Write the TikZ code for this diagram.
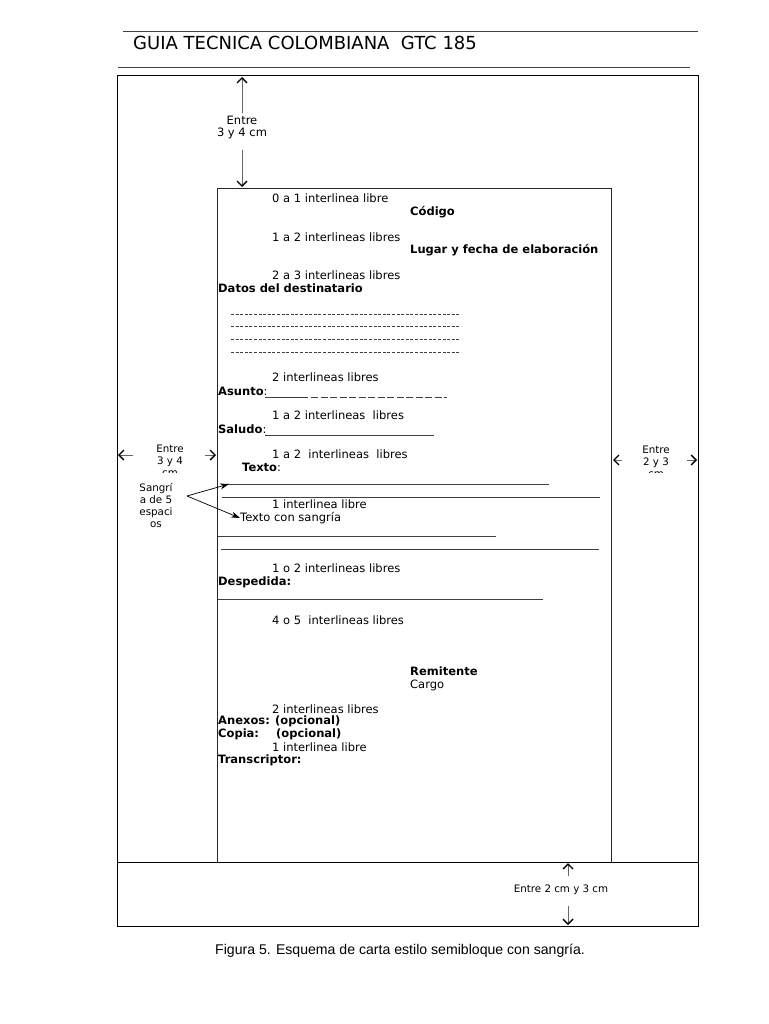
\documentclass[tikz,border=0pt]{standalone}
\usepackage{fontspec}
\setmainfont{DejaVu Sans}
\newfontfamily\capfont{Liberation Sans}
\usetikzlibrary{arrows.meta}

\begin{document}
\begin{tikzpicture}[
  x=1pt,y=-1pt,
  >={Straight Barb[length=5pt,width=10pt,line width=1.4pt,color=black]},
  txt/.style={anchor=west,inner sep=0pt,font=\fontsize{11.5}{13}\selectfont},
  bld/.style={txt,font=\fontsize{11.5}{13}\selectfont\bfseries},
  side/.style={align=center,inner sep=0pt,font=\fontsize{10.3}{12}\selectfont},
  rule/.style={black!75,line width=0.6pt},
  dots/.style={rule,dash pattern=on 3pt off 1.6pt},
  marrow/.style={->,black!60,line width=0.7pt},
]
  \useasboundingbox (0,0) rectangle (768,1024);
  \draw[rule] (123,31) -- (698,31);
  \draw[rule] (118,67) -- (690,67);
  \node[txt,font=\fontsize{18}{20}\selectfont] (title) at (133,43)
    {GUIA TECNICA COLOMBIANA\ \ GTC 185};
  \draw[line width=1pt] (117,76) rectangle (698,926);
  \draw[line width=1pt] (117,862) -- (698,862);
  \draw[black!85,line width=0.9pt] (217,862) -- (217,188) -- (611,188) -- (611,862);
  % margenes
  \coordinate (otop) at (242,77);
  \coordinate (t1) at (242,150);
  \coordinate (itop) at (242,187);
  \node[side,font=\fontsize{11.5}{12}\selectfont,inner sep=3pt] (tmar) at (242,128) {Entre\\3 y 4 cm};
  \draw[marrow] (tmar) -- (otop);
  \draw[marrow] (t1) -- (itop);
  \begin{scope}
    \clip (135,438) rectangle (205,472.5);
    \node[side] (lmar) at (170,461) {Entre\\3 y 4\\cm};
  \end{scope}
  \coordinate (l1) at (133,455);
  \coordinate (lout) at (118,455);
  \coordinate (l2) at (205,455);
  \coordinate (lin) at (216,455);
  \draw[marrow] (l1) -- (lout);
  \draw[marrow] (l2) -- (lin);
  \begin{scope}
    \clip (630,438) rectangle (685,472.5);
    \node[side] (rmar) at (656,462) {Entre\\2 y 3\\cm};
  \end{scope}
  \coordinate (r1) at (622,460);
  \coordinate (rin) at (613,460);
  \coordinate (r2) at (687,460);
  \coordinate (rout) at (697,460);
  \draw[marrow] (r1) -- (rin);
  \draw[marrow] (r2) -- (rout);
  \node[side] (bmar) at (561,890) {Entre 2 cm y 3 cm};
  \coordinate (b1) at (568,876);
  \coordinate (bin) at (568,863);
  \coordinate (b2) at (568,906);
  \coordinate (bout) at (568,925);
  \draw[marrow] (b1) -- (bin);
  \draw[marrow] (b2) -- (bout);
  % carta
  \node[txt] (lib0) at (272,198) {0 a 1 interlinea libre};
  \node[bld] (cod) at (410,212) {Código};
  \node[txt] (lib1) at (272,237) {1 a 2 interlineas libres};
  \node[bld] (lugar) at (410,250) {Lugar y fecha de elaboración};
  \node[txt] (lib2) at (272,275) {2 a 3 interlineas libres};
  \node[bld] (dest) at (218,288) {Datos del destinatario};
  \draw[dots] (231,314) -- (461,314);
  \draw[dots] (231,326) -- (461,326);
  \draw[dots] (231,339) -- (461,339);
  \draw[dots] (231,352) -- (461,352);
  \node[txt] (lib3) at (272,377) {2 interlineas libres};
  \node[bld] (asunto) at (218,391) {Asunto\textmd{:}};
  \draw[rule] (265,397) -- (308,397);
  \draw[rule,dash pattern=on 7pt off 2.5pt] (311,397) -- (447,397);
  \node[txt] (lib4) at (272,415) {1 a 2 interlineas\ \ libres};
  \node[bld] (saludo) at (218,429) {Saludo\textmd{:}};
  \draw[rule] (265,435) -- (434,435);
  \node[txt] (lib5) at (272,454) {1 a 2\ \ interlineas\ \ libres};
  \node[bld] (texto) at (242,467) {Texto\textmd{:}};
  \coordinate (sg1) at (229,484);
  \draw[rule] (222,484) -- (549,484);
  \draw[rule] (222,497) -- (600,497);
  \node[txt] (lib6) at (272,504) {1 interlinea libre};
  \node[txt] (tsang) at (240,518) {Texto con sangría};
  \draw[rule] (218,536) -- (496,536);
  \draw[rule] (221,549) -- (599,549);
  \node[txt] (lib7) at (272,568) {1 o 2 interlineas libres};
  \node[bld] (desp) at (218,582) {Despedida:};
  \draw[rule] (218,599) -- (543,599);
  \node[txt] (lib8) at (272,620) {4 o 5\ \ interlineas libres};
  \node[bld] (remit) at (410,671) {Remitente};
  \node[txt] (cargo) at (410,685) {Cargo};
  \node[txt] (lib9) at (272,709) {2 interlineas libres};
  \node[bld] (anexos) at (218,721) {Anexos: (opcional)};
  \node[bld] (copia) at (218,734) {\makebox[58pt][l]{Copia:}(opcional)};
  \node[txt] (lib10) at (272,747) {1 interlinea libre};
  \node[bld] (transc) at (218,760) {Transcriptor:};
  % sangria
  \node[side] (sang) at (156,505) {Sangrí\\a de 5\\espaci\\os};
  \coordinate (sg0) at (187,496);
  \draw[-{Stealth[length=9pt,width=6pt]},line width=0.7pt] (sg0) -- (sg1);
  \draw[-{Stealth[length=9pt,width=6pt]},line width=0.7pt] (sg0) -- (tsang.west);
  \node[inner sep=0pt,font=\capfont\fontsize{14.1}{16}\selectfont] (caption) at (400,951)
    {Figura 5. Esquema de carta estilo semibloque con sangría.};
\end{tikzpicture}
\end{document}
